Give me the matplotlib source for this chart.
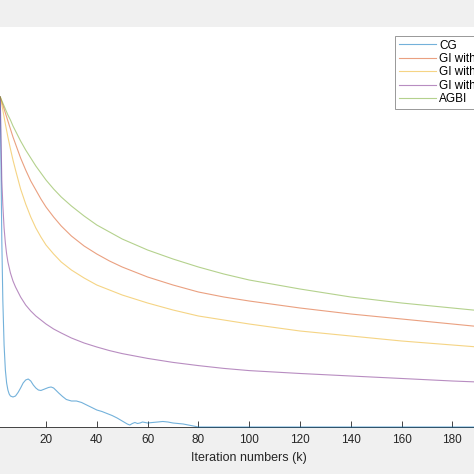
import matplotlib
matplotlib.use("Agg")
import matplotlib.pyplot as plt

# values (y is relative, the axis shows no y ticks)
cg_x = [2, 2.3, 2.6, 3, 3.5, 4, 4.5, 5, 5.5, 6, 7, 8, 9, 10, 11, 12, 13, 14, 15, 16,
        17, 18, 19, 20, 21, 22, 23, 24, 25, 26.5, 28, 30, 32, 34, 36, 38, 40, 42, 44,
        46, 48, 50, 52, 53, 54, 55, 56, 57, 58, 59, 60, 62, 64, 66, 68, 70, 74, 77,
        80, 200]
cg_y = [0.825, 0.6425, 0.4675, 0.3175, 0.205, 0.1425, 0.11, 0.0925, 0.0825, 0.0775,
        0.075, 0.0775, 0.0863, 0.0975, 0.11, 0.1175, 0.12, 0.115, 0.105, 0.0975,
        0.0925, 0.0913, 0.0938, 0.0963, 0.0988, 0.1, 0.0975, 0.0913, 0.085, 0.0763,
        0.0688, 0.065, 0.065, 0.0613, 0.055, 0.0488, 0.0425, 0.0388, 0.0338, 0.0288,
        0.0225, 0.015, 0.0075, 0.005, 0.0088, 0.0113, 0.0088, 0.01, 0.0125, 0.0113,
        0.01, 0.0113, 0.0125, 0.0138, 0.0125, 0.01, 0.0075, 0.0038, 0.0, 0.0]

x_grid = [2, 3, 4, 5, 6, 7, 8, 10, 12, 14, 16, 18, 20, 23, 26, 30, 35, 40, 45, 50,
          60, 70, 80, 90, 100, 120, 140, 160, 180, 200]

gi1_y = [0.825, 0.805, 0.785, 0.765, 0.745, 0.725, 0.7075, 0.6725, 0.6425, 0.615,
         0.5925, 0.57, 0.55, 0.525, 0.5025, 0.4775, 0.4525, 0.4325, 0.415, 0.40,
         0.375, 0.355, 0.3375, 0.325, 0.315, 0.2975, 0.2825, 0.27, 0.2575, 0.245]

gi2_y = [0.825, 0.7925, 0.7575, 0.725, 0.695, 0.6675, 0.6425, 0.595, 0.5575, 0.525,
         0.4975, 0.475, 0.455, 0.4325, 0.4125, 0.3925, 0.3725, 0.355, 0.3425, 0.33,
         0.31, 0.2925, 0.2775, 0.2675, 0.2575, 0.24, 0.2275, 0.215, 0.205, 0.195]

gi3_x = [2, 2.3, 2.6, 3, 3.5, 4, 4.5, 5, 6, 7, 8, 10, 12, 14, 16, 18, 20, 23, 26, 30,
         35, 40, 45, 50, 60, 70, 80, 90, 100, 120, 140, 160, 180, 200]
gi3_y = [0.825, 0.7175, 0.6175, 0.555, 0.4975, 0.46, 0.4325, 0.4125, 0.385, 0.365,
         0.35, 0.325, 0.305, 0.29, 0.2775, 0.2675, 0.2575, 0.245, 0.235, 0.2225, 0.21,
         0.2, 0.191, 0.1835, 0.1715, 0.1615, 0.1535, 0.1465, 0.141, 0.1338, 0.1275,
         0.1213, 0.115, 0.11]

agbi_y = [0.825, 0.81, 0.795, 0.78, 0.7675, 0.7525, 0.74, 0.715, 0.6925, 0.6725,
          0.6525, 0.635, 0.6175, 0.595, 0.575, 0.5525, 0.5275, 0.505, 0.4875, 0.47,
          0.4425, 0.42, 0.40, 0.3825, 0.3675, 0.345, 0.325, 0.31, 0.2975, 0.285]

labels = ["CG", "GI with", "GI with", "GI with", "AGBI"]
colors = ["#0072bd", "#d95319", "#edb120", "#7e2f8e", "#77ac30"]
xticks = [20, 40, 60, 80, 100, 120, 140, 160, 180]

plt.rcParams['font.family'] = ['Liberation Sans', 'DejaVu Sans']

fig = plt.figure(figsize=(4.74, 4.74), dpi=100, facecolor="#f0f0f0")
# the axes is wider than the picture: its left and right edges are cropped away
ax = fig.add_axes([-4.8/474, 47/474, 508/474, 400/474])
ax.set_facecolor("white")

series = [(cg_x, cg_y), (x_grid, gi1_y), (x_grid, gi2_y), (gi3_x, gi3_y), (x_grid, agbi_y)]
for (xs, ys), lab, c in zip(series, labels, colors):
    ax.plot(xs, ys, color=c, lw=0.8, alpha=0.55, label=lab, zorder=3, clip_on=False)

ax.set_xlim(0, 200)
ax.set_ylim(0, 1)
ax.set_xticks(xticks)
ax.set_yticks([])
ax.tick_params(axis='x', direction='in', length=4, width=0.6, colors='#262626',
               labelsize=8.5, pad=5)
for s in ['top', 'right', 'left']:
    ax.spines[s].set_visible(False)
ax.spines['bottom'].set_color('#262626')
ax.spines['bottom'].set_linewidth(0.6)
ax.set_xlabel("Iteration numbers (k)", fontsize=9, color='#262626', labelpad=4)

leg = ax.legend(loc='upper left', bbox_to_anchor=(395/474, 1 - 36/474),
                bbox_transform=fig.transFigure, fontsize=8.5, frameon=True,
                fancybox=False, edgecolor='#7f7f7f', handlelength=3.2,
                handletextpad=0.25, labelspacing=0.12, borderpad=0.3,
                borderaxespad=0)
leg.get_frame().set_linewidth(0.7)

fig.savefig("out.png", dpi=100, facecolor=fig.get_facecolor())
